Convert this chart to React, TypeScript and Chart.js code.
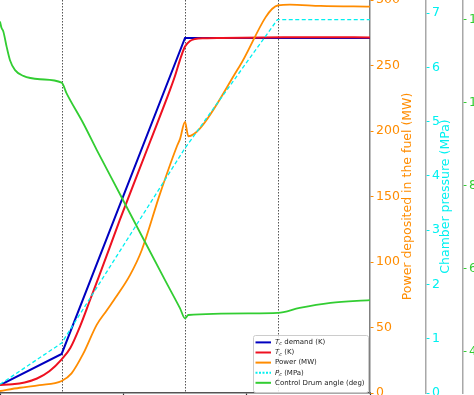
import React, { useEffect, useRef } from 'react';
import { Chart, registerables } from 'chart.js';

Chart.register(...registerables);

// ---- axis ticks ----
const timeTicks = [0, 100, 200, 300];
const powerTicks = [0, 50, 100, 150, 200, 250, 300];
const pressureTicks = [0, 1, 2, 3, 4, 5, 6, 7];
const drumTicks = [4, 6, 8, 10, 12];
const phaseTimes = [50, 150, 225];

// ---- series ----
const tDemandTime = [0, 50, 150, 300];
const tDemandK = [300, 515, 2700, 2700];

const tcTime = [0, 10, 20, 30, 40, 50, 57, 65, 73, 81, 97, 122, 138, 142, 146, 150, 154, 158, 166, 180, 230, 260, 300];
const tcK = [300, 305, 318, 345, 395, 478, 556, 708, 888, 1068, 1438, 1989, 2344, 2440, 2550, 2640, 2678, 2692, 2698, 2700, 2704, 2705, 2703];

const powerTime = [0, 16, 32, 50, 58, 67.5, 78.4, 86.5, 94.6, 105.4, 114.9, 129.7, 143.3, 146, 150, 152.7, 162.2, 194, 225.7, 235, 260, 300];
const powerMW = [1.5, 4, 6, 9.2, 15, 30, 52, 63, 74, 90, 109, 152, 188, 194, 207, 196, 202, 249, 296, 296.5, 295.5, 295];

const pressureTime = [0, 50, 150, 225, 300];
const pressureMPa = [0.16, 0.92, 4.51, 6.88, 6.88];

const drumTime = [0, 1.2, 2.7, 5.4, 8.1, 12.2, 18.9, 32.4, 50, 54, 67.5, 78.4, 97.3, 114.9, 133.8, 146, 150, 152.7, 202.7, 225.4, 243, 268, 300];
const drumDeg = [11.95, 11.8, 11.71, 11.34, 11.02, 10.78, 10.64, 10.56, 10.48, 10.22, 9.5, 8.86, 7.79, 6.79, 5.72, 5.04, 4.8, 4.88, 4.92, 4.93, 5.05, 5.17, 5.24];

const powerTitle = 'Power deposited in the fuel (MW)';
const pressureTitle = 'Chamber pressure (MPa)';

const legendLabels = ['$T_c$ demand (K)', '$T_c$ (K)', 'Power (MW)', '$P_c$ (MPa)', 'Control Drum angle (deg)'];

const BLUE = '#0000c0';
const RED = '#ee1020';
const ORANGE = '#ff8c00';
const CYAN = '#00f0f0';
const GREEN = '#32cd32';
const FONT = "'DejaVu Sans', 'Liberation Sans', sans-serif";

const legendStyles = [
  { color: BLUE, dash: [] as number[], width: 2 },
  { color: RED, dash: [] as number[], width: 2 },
  { color: ORANGE, dash: [] as number[], width: 2 },
  { color: CYAN, dash: [2, 1.5], width: 2 },
  { color: GREEN, dash: [] as number[], width: 2 },
];

const pts = (xs: number[], ys: number[]) => xs.map((x, i) => ({ x, y: ys[i] }));

function drawRich(ctx: CanvasRenderingContext2D, text: string, x: number, y: number, size: number) {
  const m = text.match(/^\$(\w)_(\w)\$(.*)$/);
  ctx.textBaseline = 'middle';
  ctx.textAlign = 'left';
  if (m) {
    ctx.font = `italic ${size}px ${FONT}`;
    ctx.fillText(m[1], x, y);
    let cx = x + ctx.measureText(m[1]).width;
    ctx.font = `italic ${size * 0.7}px ${FONT}`;
    ctx.fillText(m[2], cx, y + size * 0.25);
    cx += ctx.measureText(m[2]).width;
    ctx.font = `${size}px ${FONT}`;
    ctx.fillText(m[3], cx, y);
  } else {
    ctx.font = `${size}px ${FONT}`;
    ctx.fillText(text, x, y);
  }
}

const overlayPlugin = {
  id: 'overlay',
  beforeDatasetsDraw(chart: any) {
    const { ctx, chartArea, scales } = chart;
    ctx.save();
    ctx.strokeStyle = '#555555';
    ctx.lineWidth = 1;
    ctx.setLineDash([1.5, 1.5]);
    for (const t of phaseTimes) {
      const x = Math.round(scales.x.getPixelForValue(t)) + 0.5;
      ctx.beginPath();
      ctx.moveTo(x, chartArea.top);
      ctx.lineTo(x, chartArea.bottom);
      ctx.stroke();
    }
    ctx.restore();
  },
  afterDraw(chart: any) {
    const { ctx, chartArea, scales } = chart;
    const cy = (chartArea.top + chartArea.bottom) / 2;
    ctx.save();
    const titles: [string, number, string][] = [
      [powerTitle, scales.power.left + 37.5, ORANGE],
      [pressureTitle, scales.pressure.left + 20, CYAN],
    ];
    for (const [txt, x, col] of titles) {
      ctx.save();
      ctx.translate(x, cy);
      ctx.rotate(-Math.PI / 2);
      ctx.fillStyle = col;
      ctx.font = `12.5px ${FONT}`;
      ctx.textAlign = 'center';
      ctx.textBaseline = 'middle';
      ctx.fillText(txt, 0, 0);
      ctx.restore();
    }
    const bx = 253.5, by = 335.5, bw = 115, bh = 57;
    ctx.beginPath();
    (ctx as any).roundRect(bx, by, bw, bh, 2);
    ctx.fillStyle = 'rgba(255,255,255,0.85)';
    ctx.fill();
    ctx.strokeStyle = '#cccccc';
    ctx.lineWidth = 1;
    ctx.stroke();
    legendLabels.forEach((lab, i) => {
      const y = 342.4 + i * 10.1;
      const st = legendStyles[i];
      ctx.save();
      ctx.strokeStyle = st.color;
      ctx.lineWidth = st.width;
      ctx.setLineDash(st.dash);
      ctx.beginPath();
      ctx.moveTo(255.5, y);
      ctx.lineTo(271, y);
      ctx.stroke();
      ctx.restore();
      ctx.fillStyle = '#1a1a1a';
      drawRich(ctx, lab, 275, y, 7);
    });
    ctx.restore();
  },
};

const zeroPad = (s: any) => {
  s.paddingTop = 0;
  s.paddingBottom = 0;
  s.paddingLeft = 0;
  s.paddingRight = 0;
};

const rightAxis = (min: number, max: number, color: string, tickVals: number[], width: number, weight: number, border: string) => ({
  type: 'linear' as const,
  position: 'right' as const,
  min,
  max,
  weight,
  grid: { drawOnChartArea: false, drawTicks: true, tickLength: 3.5, tickColor: color, tickWidth: 1 },
  border: { display: true, color: border, width: 1.5 },
  ticks: { color, font: { size: 12.5, family: FONT }, padding: 2.5 },
  afterBuildTicks: (s: any) => {
    s.ticks = tickVals.map((v) => ({ value: v }));
  },
  afterFit: (s: any) => {
    s.width = width;
    zeroPad(s);
  },
});

export default function App() {
  const ref = useRef<HTMLCanvasElement | null>(null);
  useEffect(() => {
    if (!ref.current) return;
    Chart.defaults.font.family = FONT;
    const chart = new Chart(ref.current, {
      type: 'line',
      data: {
        datasets: [
          {
            label: 'Tc demand (K)',
            data: pts(tDemandTime, tDemandK),
            yAxisID: 'T',
            borderColor: BLUE,
            borderWidth: 2,
            pointRadius: 0,
            tension: 0,
            order: 5,
          },
          {
            label: 'Tc (K)',
            data: pts(tcTime, tcK),
            yAxisID: 'T',
            borderColor: RED,
            borderWidth: 2,
            pointRadius: 0,
            cubicInterpolationMode: 'monotone',
            order: 4,
          },
          {
            label: 'Power (MW)',
            data: pts(powerTime, powerMW),
            yAxisID: 'power',
            borderColor: ORANGE,
            borderWidth: 1.8,
            pointRadius: 0,
            cubicInterpolationMode: 'monotone',
            order: 3,
          },
          {
            label: 'Pc (MPa)',
            data: pts(pressureTime, pressureMPa),
            yAxisID: 'pressure',
            borderColor: CYAN,
            borderWidth: 1.3,
            borderDash: [4, 2.5],
            pointRadius: 0,
            tension: 0,
            order: 2,
          },
          {
            label: 'Control Drum angle (deg)',
            data: pts(drumTime, drumDeg),
            yAxisID: 'drum',
            borderColor: GREEN,
            borderWidth: 1.8,
            pointRadius: 0,
            cubicInterpolationMode: 'monotone',
            order: 1,
          },
        ],
      },
      options: {
        animation: false,
        responsive: false,
        devicePixelRatio: 1,
        layout: { autoPadding: false, padding: 0 },
        plugins: { legend: { display: false }, tooltip: { enabled: false } },
        scales: {
          x: {
            type: 'linear',
            position: 'bottom',
            min: 0,
            max: 300,
            grid: { drawOnChartArea: false, drawTicks: true, tickLength: 4, tickColor: '#333333', tickWidth: 1.2 },
            border: { display: true, color: '#555555', width: 1.5 },
            ticks: { display: false },
            afterBuildTicks: (s: any) => {
              s.ticks = timeTicks.map((v) => ({ value: v }));
            },
            afterFit: (s: any) => {
              s.height = 4;
              zeroPad(s);
            },
          },
          T: { type: 'linear', position: 'left', display: false, min: 245, max: 2962 },
          power: rightAxis(0, 300, ORANGE, powerTicks, 56, 1, '#808080'),
          pressure: rightAxis(0, 7.24, CYAN, pressureTicks, 37, 2, '#a8a8a8'),
          drum: rightAxis(3.0, 12.47, GREEN, drumTicks, 60, 3, '#a8a8a8'),
        },
      } as any,
      plugins: [overlayPlugin],
    });
    return () => chart.destroy();
  }, []);
  return (
    <div style={{ position: 'fixed', left: 0, top: 0, width: 474, height: 395, overflow: 'hidden', background: '#ffffff' }}>
      <canvas ref={ref} width={523} height={397} style={{ display: 'block' }} />
    </div>
  );
}
